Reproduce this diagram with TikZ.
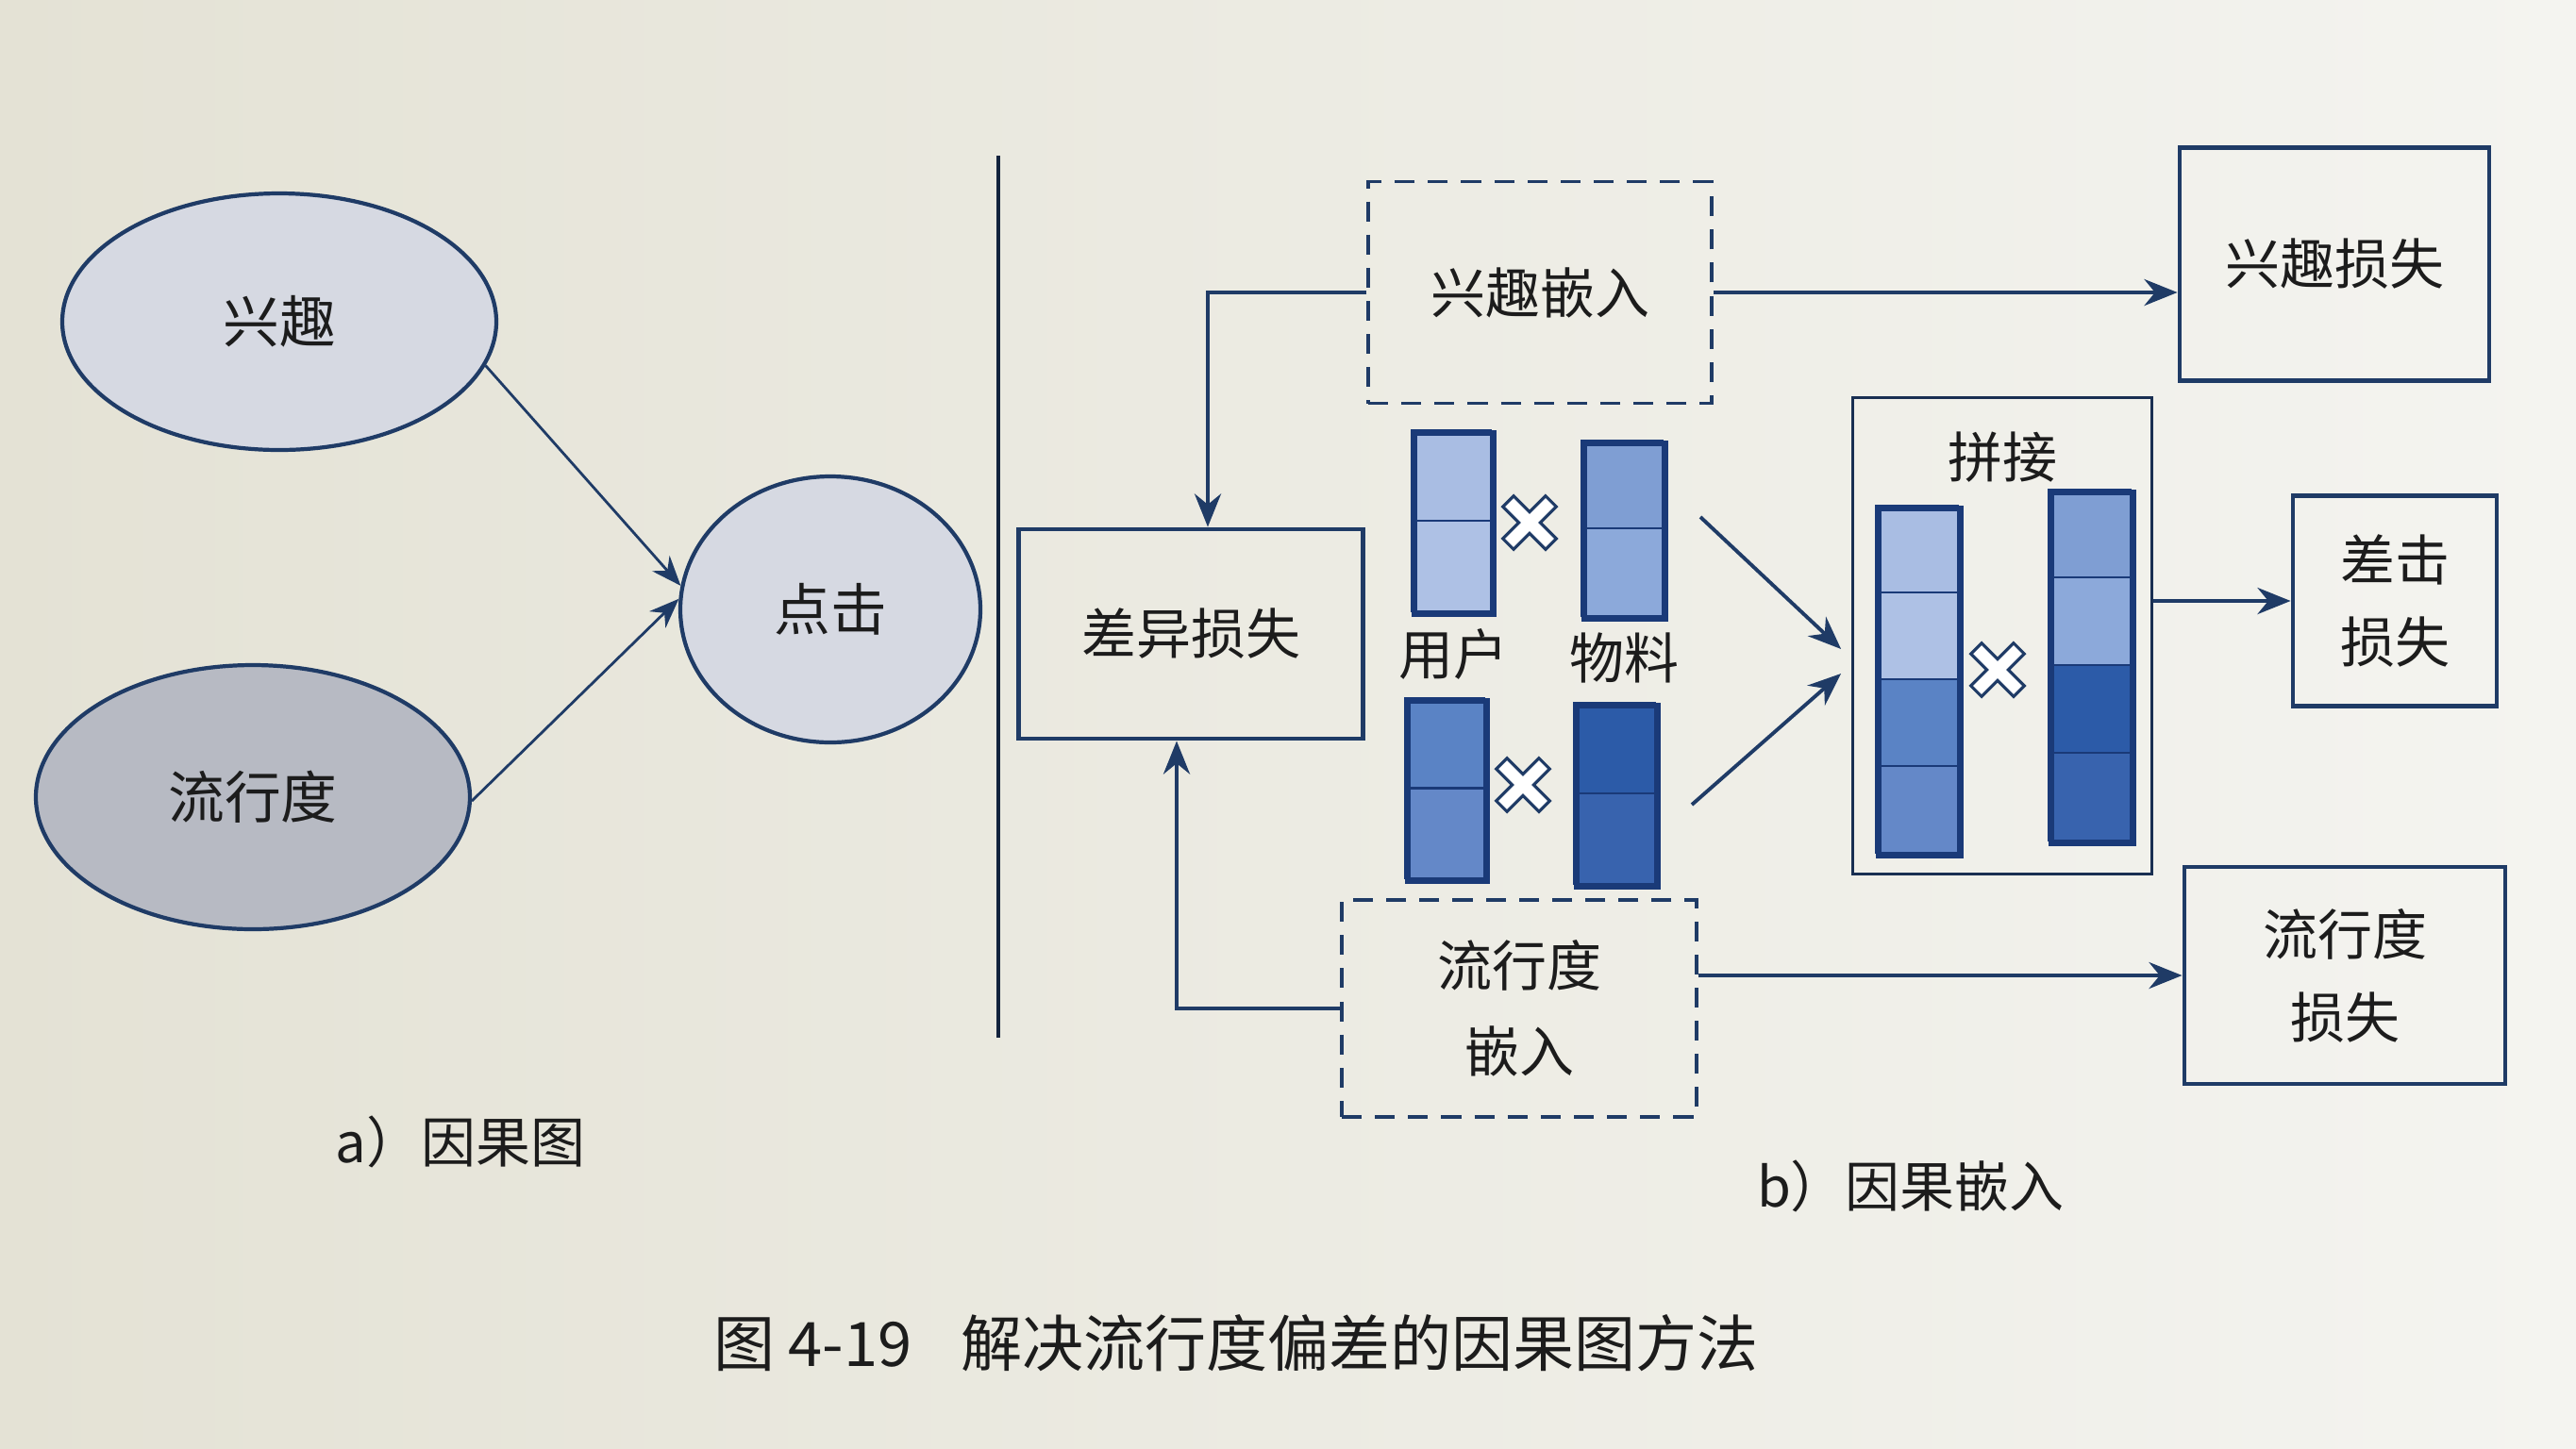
\documentclass[tikz,border=0pt]{standalone}
\usepackage{fontspec}
\setmainfont{Noto Sans CJK SC}
\usepackage{xcolor}
\usepackage{tikz}
\usetikzlibrary{shapes.geometric, arrows.meta, positioning, calc}
\definecolor{navy}{HTML}{1F3B66}
\definecolor{barline}{HTML}{1A3A78}
\definecolor{paperL}{HTML}{E4E2D5}
\definecolor{paperR}{HTML}{F4F4F0}
\definecolor{inkgray}{HTML}{1C1C1C}
\definecolor{ovA}{HTML}{D6D9E2}
\definecolor{ovB}{HTML}{B7BAC3}
\definecolor{cLightA}{HTML}{A9BDE3}
\definecolor{cLightB}{HTML}{AEC1E5}
\definecolor{cMidA}{HTML}{7F9ED3}
\definecolor{cMidB}{HTML}{8CA9DA}
\definecolor{cUserA}{HTML}{5A83C5}
\definecolor{cUserB}{HTML}{6488C8}
\definecolor{cDarkA}{HTML}{2C5BA8}
\definecolor{cDarkB}{HTML}{3863AE}
\tikzset{
  var/.style={ellipse, draw=navy, line width=1.2pt, text=inkgray,
              font=\fontsize{17}{20}\selectfont},
  loss/.style={rectangle, draw=navy, line width=1.4pt, align=center,
               text=inkgray, font=\fontsize{16.5}{25}\selectfont},
  emb/.style={rectangle, draw=navy, line width=1.1pt, dash pattern=on 6pt off 4pt,
              align=center, text=inkgray, font=\fontsize{16.5}{26}\selectfont},
  lbl/.style={text=inkgray, font=\fontsize{16.5}{20}\selectfont},
  sarr/.style={-{Stealth[length=9pt, width=7pt]}, navy, line width=0.8pt},
  arr/.style={-{Stealth[length=10pt, width=8pt]}, navy, line width=1.1pt},
  cell/.style={draw=barline, line width=0.8pt},
  barbox/.style={rectangle, draw=barline, line width=1.6pt, inner sep=0pt},
  crs/.style={draw=navy, fill=white, line width=0.9pt},
}

\begin{document}
\begin{tikzpicture}[
    node distance=0.2cm,
    figcap/.style={text=inkgray, font=\fontsize{18.5}{22}\selectfont},
  ]
  \useasboundingbox (0,0) rectangle (27.3,-15.35);
  \shade[left color=paperL, right color=paperR] (0,0) rectangle (27.3,-15.35);

  % a) causal graph
  \node[var, fill=ovA, minimum width=4.6cm, minimum height=2.72cm] (xq) at (2.96,-3.41) {兴趣};
  \node[var, fill=ovB, minimum width=4.6cm, minimum height=2.8cm] (lx) at (2.68,-8.45) {流行度};
  \node[var, fill=ovA, minimum width=3.18cm, minimum height=2.82cm] (dj) at (8.80,-6.46) {点击};
  \draw[sarr] (xq.-12) -- (dj.171);
  \draw[sarr] (lx.-1) -- (dj.176);
  \node[lbl] (capa) at (4.88,-12.10) {a）因果图};

  \draw[navy!60!black, line width=1pt] (10.58,-1.65) -- (10.58,-11.0);

  % b) causal embedding
  \node[emb, minimum width=3.64cm, minimum height=2.35cm] (xqe) at (16.32,-3.10) {兴趣嵌入};
  \node[emb, minimum width=3.76cm, minimum height=2.30cm] (lxe) at (16.10,-10.69) {流行度\\嵌入};
  \node[loss, minimum width=3.65cm, minimum height=2.22cm] (cy) at (12.62,-6.72) {差异损失};
  \node[loss, minimum width=3.28cm, minimum height=2.47cm] (xqs) at (24.74,-2.80) {兴趣损失};
  \node[loss, minimum width=2.16cm, minimum height=2.23cm] (cjs) at (25.38,-6.37) {差击\\损失};
  \node[loss, minimum width=3.40cm, minimum height=2.30cm] (lxs) at (24.85,-10.34) {流行度\\损失};
  \node[rectangle, draw=navy!80!black, thick, minimum width=3.17cm, minimum height=5.05cm] (pj) at (21.22,-6.74) {};
  \node[lbl, below=0.25cm of pj.north] (pjt) {拼接};

  \foreach \c [count=\i from 0] in {cLightA,cLightB}
    \draw[cell, fill=\c] (14.96,-4.56-0.96*\i) rectangle ++(0.84,-0.96);
  \node[barbox, minimum width=0.84cm, minimum height=1.92cm, anchor=north west] (u1) at (14.96,-4.56) {};
  \foreach \c [count=\i from 0] in {cMidA,cMidB}
    \draw[cell, fill=\c] (16.76,-4.67-0.93*\i) rectangle ++(0.86,-0.93);
  \node[barbox, minimum width=0.86cm, minimum height=1.86cm, anchor=north west] (i1) at (16.76,-4.67) {};
  \foreach \c [count=\i from 0] in {cUserA,cUserB}
    \draw[cell, fill=\c] (14.89,-7.40-0.955*\i) rectangle ++(0.84,-0.955);
  \node[barbox, minimum width=0.84cm, minimum height=1.91cm, anchor=north west] (u2) at (14.89,-7.40) {};
  \foreach \c [count=\i from 0] in {cDarkA,cDarkB}
    \draw[cell, fill=\c] (16.68,-7.45-0.96*\i) rectangle ++(0.86,-0.96);
  \node[barbox, minimum width=0.86cm, minimum height=1.92cm, anchor=north west] (i2) at (16.68,-7.45) {};
  \foreach \c [count=\i from 0] in {cLightA,cLightB,cUserA,cUserB}
    \draw[cell, fill=\c] (19.88,-5.36-0.92*\i) rectangle ++(0.87,-0.92);
  \node[barbox, minimum width=0.87cm, minimum height=3.68cm, anchor=north west] (cu) at (19.88,-5.36) {};
  \foreach \c [count=\i from 0] in {cMidA,cMidB,cDarkA,cDarkB}
    \draw[cell, fill=\c] (21.71,-5.19-0.93*\i) rectangle ++(0.87,-0.93);
  \node[barbox, minimum width=0.87cm, minimum height=3.72cm, anchor=north west] (ci) at (21.71,-5.19) {};

  \node[lbl, below=0pt of u1] (yh) {用户};
  \node[lbl, below=0pt of i1] (wl) {物料};

  \foreach \p in {(16.21,-5.54),(16.14,-8.32),(21.17,-7.10)}
    \draw[crs, shift={\p}, rotate=45]
      (0.08,0.32) -- (0.08,0.08) -- (0.32,0.08) -- (0.32,-0.08) -- (0.08,-0.08)
      -- (0.08,-0.32) -- (-0.08,-0.32) -- (-0.08,-0.08) -- (-0.32,-0.08)
      -- (-0.32,0.08) -- (-0.08,0.08) -- (-0.08,0.32) -- cycle;

  \coordinate (a1) at (18.02,-5.48);
  \coordinate (a2) at (17.93,-8.53);
  \draw[arr] (a1) -- ([shift={(-0.11,-0.14)}]pj.west);
  \draw[arr] (a2) -- ([shift={(-0.11,-0.40)}]pj.west);
  \draw[arr] (xqe.west) -| ([xshift=0.18cm]cy.north);
  \draw[arr] (lxe.west) -| ([xshift=-0.15cm]cy.south);
  \draw[arr] (xqe.east) -- (xqe.east -| xqs.west);
  \draw[arr] (pj.east |- cjs.west) -- (cjs.west);
  \draw[arr] (lxe.east |- lxs.west) -- (lxs.west);
  \node[lbl] (capb) at (20.25,-12.57) {b）因果嵌入};

  \node[figcap] (fig) at (13.10,-14.24) {图 4-19\hspace{0.8em}解决流行度偏差的因果图方法};
\end{tikzpicture}
\end{document}
